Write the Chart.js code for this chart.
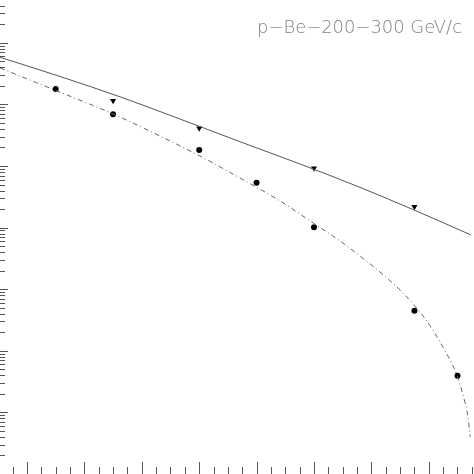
<!DOCTYPE html>
<html>
<head>
<meta charset="utf-8">
<style>
  html, body { margin: 0; padding: 0; background: #fff; }
  #wrap { position: relative; width: 474px; height: 474px; }
</style>
</head>
<body>
<div id="wrap">
  <canvas id="spectrumChart" width="474" height="474"></canvas>
</div>

<script src="https://cdnjs.cloudflare.com/ajax/libs/Chart.js/4.4.1/chart.umd.js"></script>
<script>
  // values (x arbitrary units, y on a log scale)
  const circleX = [0.30, 0.50, 0.80, 1.00, 1.20, 1.55, 1.70];
  const circleY = [1.78e6, 6.9e5, 1.82e5, 5.36e4, 1.01e4, 448, 39.4];

  const triangleX = [0.50, 0.80, 1.20, 1.55];
  const triangleY = [1.15e6, 4.09e5, 9.18e4, 2.18e4];

  const solidX = [0.106, 0.315, 0.524, 0.733, 0.942, 1.151, 1.360, 1.552, 1.747];
  const solidY = [5.82e6, 2.84e6, 1.33e6, 5.79e5, 2.48e5, 1.08e5, 4.51e4, 1.90e4, 7.59e3];

  const dashX = [0.106, 0.301, 0.500, 0.663, 0.803, 0.942, 1.082, 1.203, 1.291, 1.360,
                 1.430, 1.510, 1.594, 1.649, 1.698, 1.719, 1.737, 1.744];
  const dashY = [3.90e6, 1.68e6, 6.99e5, 3.07e5, 1.45e5, 6.39e4, 2.70e4, 1.14e4, 6.06e3, 3.46e3,
                 1.90e3, 868, 300, 115, 40.5, 19.2, 8.1, 4.0];

  const xMajorStep = 0.2;
  const xMinorStep = 0.05;
  const yMinorMults = [2, 3, 4, 5, 6, 7, 8, 9];
  const title = 'p\u2212Be\u2212200\u2212300 GeV/c';

  const pts = (xs, ys) => xs.map((x, i) => ({ x: x, y: ys[i] }));

  // tick marks drawn along the (cropped) left and bottom frame
  const frameTicks = {
    id: 'frameTicks',
    afterDraw(chart) {
      const c = chart.ctx;
      const xs = chart.scales.x, ys = chart.scales.y;
      const a = chart.chartArea;
      c.save();
      c.strokeStyle = '#555';
      c.lineWidth = 1;
      c.beginPath();
      // y: decades and 2..9 minors
      for (let d = -1; d <= 8; d++) {
        const base = Math.pow(10, d);
        const py = ys.getPixelForValue(base);
        if (py >= a.top && py <= a.bottom) {
          c.moveTo(a.left, Math.round(py) + 0.5);
          c.lineTo(a.left + 8, Math.round(py) + 0.5);
        }
        yMinorMults.forEach(m => {
          const p = ys.getPixelForValue(base * m);
          if (p >= a.top && p <= a.bottom) {
            c.moveTo(a.left, Math.round(p) + 0.5);
            c.lineTo(a.left + 5, Math.round(p) + 0.5);
          }
        });
      }
      // x: minor every 0.05, major every 0.2
      for (let k = 0; k <= 40; k++) {
        const v = k * xMinorStep;
        const px = xs.getPixelForValue(v);
        if (px < a.left || px > a.right) continue;
        const major = Math.abs(v / xMajorStep - Math.round(v / xMajorStep)) < 1e-6;
        c.moveTo(Math.round(px) + 0.5, a.bottom);
        c.lineTo(Math.round(px) + 0.5, a.bottom - (major ? 12 : 7));
      }
      c.stroke();

      c.fillStyle = '#808080';
      c.font = '200 17px "DejaVu Sans"';
      c.textAlign = 'left';
      c.textBaseline = 'alphabetic';
      const w = c.measureText(title).width;
      const target = 205;
      c.translate(257, 33);
      c.scale(target / w, 1);
      c.fillText(title, 0, 0);
      c.restore();
    }
  };

  new Chart(document.getElementById('spectrumChart'), {
    type: 'scatter',
    data: {
      datasets: [
        {
          label: 'fit solid',
          data: pts(solidX, solidY),
          showLine: true,
          borderColor: '#555',
          borderWidth: 1,
          pointRadius: 0,
          cubicInterpolationMode: 'monotone'
        },
        {
          label: 'fit dash-dot',
          data: pts(dashX, dashY),
          showLine: true,
          borderColor: '#666',
          borderWidth: 1,
          borderDash: [5, 3, 1, 3],
          pointRadius: 0,
          cubicInterpolationMode: 'monotone'
        },
        {
          label: 'triangles',
          data: pts(triangleX, triangleY),
          pointStyle: 'triangle',
          rotation: 180,
          pointRadius: 3.5,
          backgroundColor: '#000',
          borderColor: '#000',
          borderWidth: 0
        },
        {
          label: 'circles',
          data: pts(circleX, circleY),
          pointStyle: 'circle',
          pointRadius: 3,
          backgroundColor: '#000',
          borderColor: '#000',
          borderWidth: 0
        }
      ]
    },
    options: {
      responsive: false,
      animation: false,
      layout: { padding: 0, autoPadding: false },
      scales: {
        x: { type: 'linear', display: false, min: 0.106, max: 1.7575 },
        y: { type: 'logarithmic', display: false, min: 1, max: Math.pow(10, 474 / 61.6) }
      },
      plugins: {
        legend: { display: false },
        tooltip: { enabled: false }
      }
    },
    plugins: [frameTicks]
  });
</script>
</body>
</html>
